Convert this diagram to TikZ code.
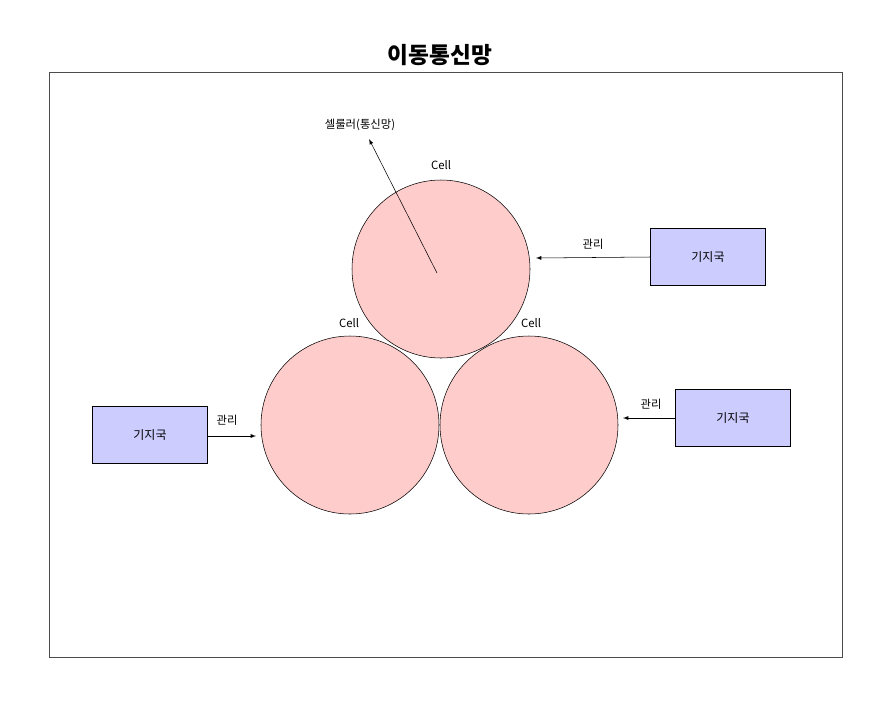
\documentclass[tikz,border=0pt]{standalone}
\usepackage{fontspec}
\setmainfont{Noto Sans CJK KR}
\definecolor{cellc}{HTML}{FFCCCC}
\definecolor{boxc}{HTML}{CCCCFF}
\begin{document}
\begin{tikzpicture}[x=0.75pt,y=-0.75pt,
  cellc/.style={circle,draw,fill=cellc,minimum size=178*0.75pt,inner sep=0pt},
  bs/.style={draw,fill=boxc,minimum width=115*0.75pt,minimum height=57*0.75pt,font=\fontsize{9}{11}\selectfont},
  lbl/.style={font=\fontsize{8.5}{10}\selectfont},
  arr/.style={-latex}]
\useasboundingbox (0,0) rectangle (874,715);
\draw[fill=white,draw=black!70] (49,72) rectangle (842,657);
\node[font=\fontsize{17}{20}\selectfont\bfseries] (t) at (440,55) {이동통신망};
\node[cellc] (c1) at (441,269) {};
\node[cellc] (c2) at (350,425) {};
\node[cellc] (c3) at (529,425) {};
\node[lbl] (l1) at (441,165) {Cell};
\node[lbl] (l2) at (349,323) {Cell};
\node[lbl] (l3) at (531,323) {Cell};
\coordinate (cc) at (437,273);
\node[lbl] (s) at (360,125) {셀룰러(통신망)};
\coordinate (st) at (369,139);
\draw[arr] (cc) -- (st);
\node[bs] (b1) at (708,257) {기지국};
\node[bs] (b2) at (733,418) {기지국};
\node[bs] (b3) at (150,435) {기지국};
\coordinate (e1) at (536,258);
\coordinate (e2) at (623,418);
\coordinate (e3) at (256,436);
\draw[arr] (b1.west) -- (e1);
\draw[arr] (b2.west) -- (e2);
\draw[arr] (b3.east |- e3) -- (e3);
\node[lbl] (m1) at (593,244) {관리};
\node[lbl] (m2) at (651,404) {관리};
\node[lbl] (m3) at (227,420) {관리};
\end{tikzpicture}
\end{document}
